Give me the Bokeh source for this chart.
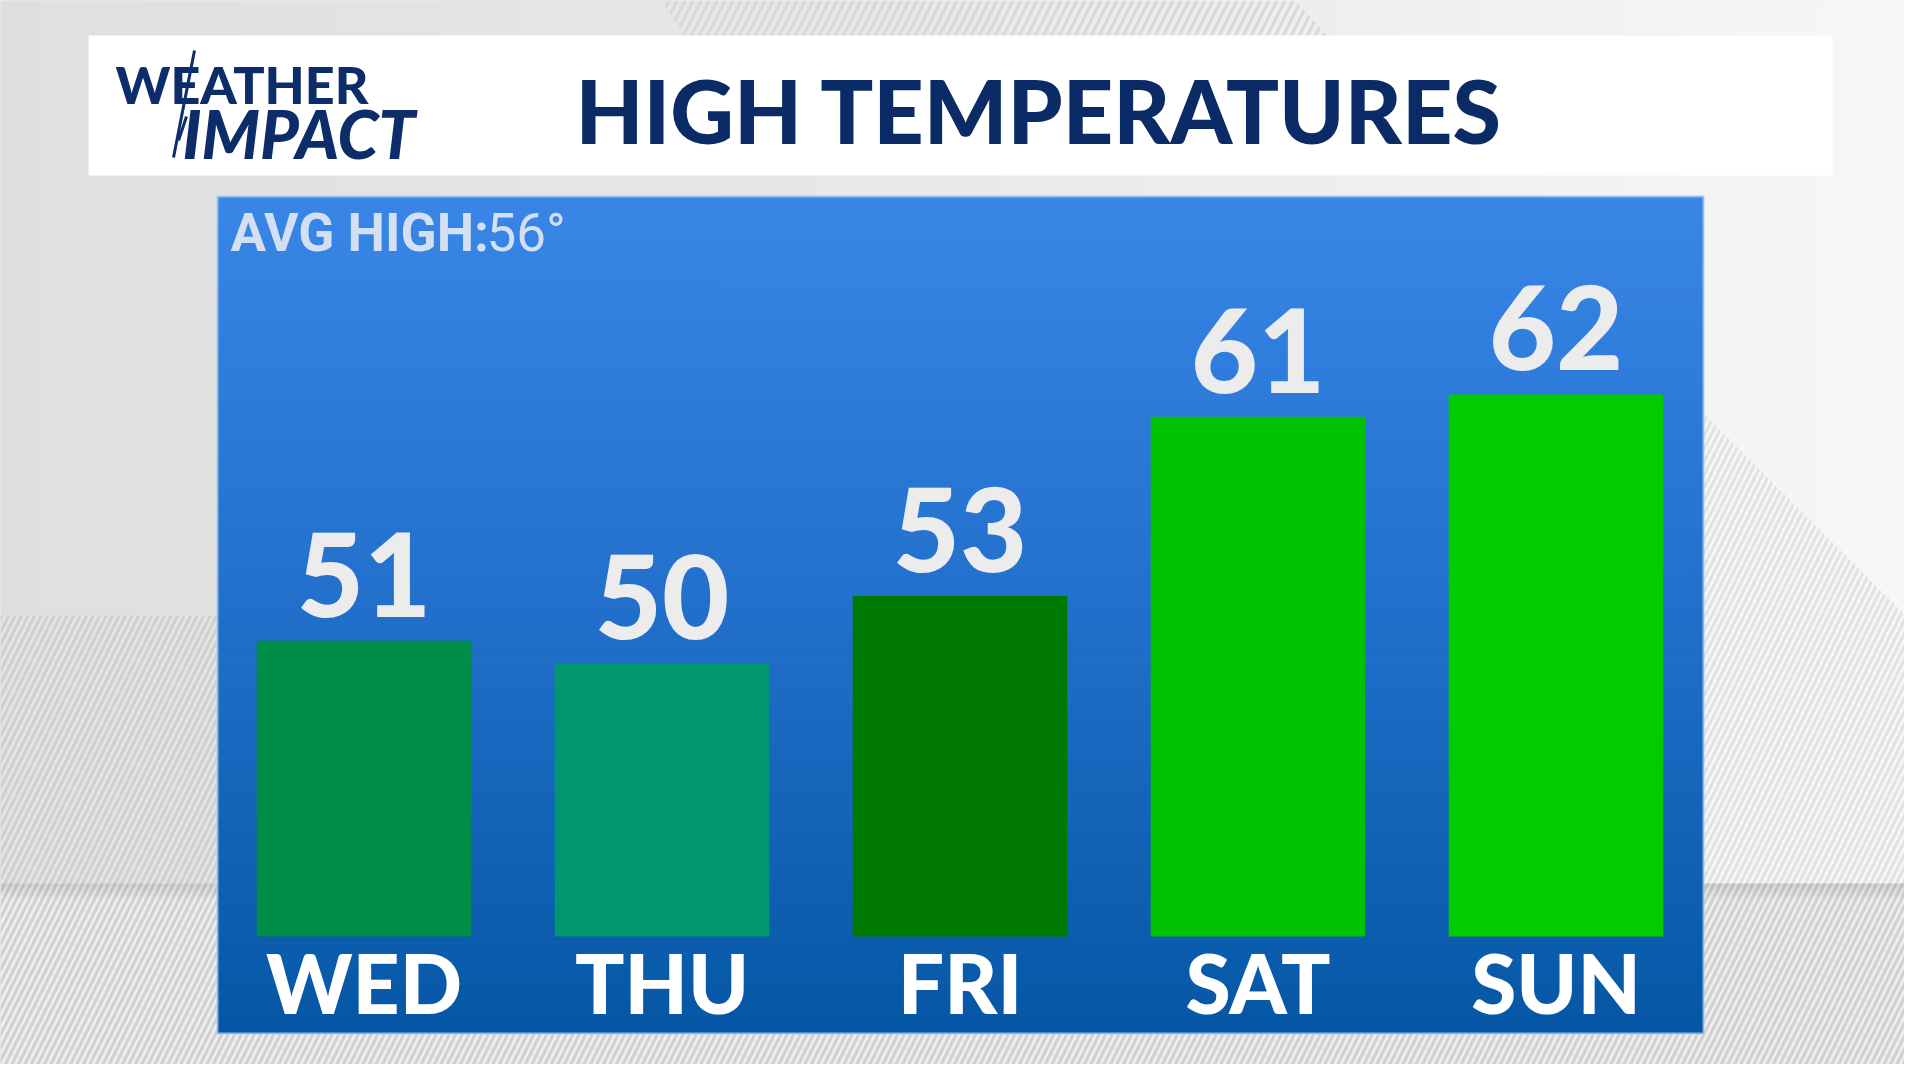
import numpy as np
from bokeh.plotting import figure
from bokeh.models import Range1d, ColumnDataSource
from bokeh.core.properties import value
from bokeh.embed import file_html
from bokeh.resources import INLINE

# ---- data ----
DAYS = ["WED", "THU", "FRI", "SAT", "SUN"]
HIGHS = [51, 50, 53, 61, 62]
BAR_COLORS = ["#008d47", "#00966f", "#007a00", "#00c200", "#00cc00"]
AVG_HIGH = 56
TITLE = "HIGH TEMPERATURES"
LOGO_TOP = "WEATHER"
LOGO_BOTTOM = "IMPACT"

# ---- layout constants (page pixels, 1:1 with the 1920x1080 window) ----
W, H = 1904, 1064
BASE = 37.8           # temperature at the bar baseline
PX_PER_DEG = 22.4
BASE_PX = 936
SLOT_PX = 298.0
FIRST_PX = 363.5
HEAVY = "'Lato Black', Lato"
SHIFT = 0.36          # baseline compensation (fraction of font size)


def hex2rgb(h):
    h = h.lstrip("#")
    return np.array([int(h[i:i + 2], 16) for i in (0, 2, 4)], dtype=float)


def grad(stops, t):
    pos = np.array([s[0] for s in stops])
    cols = np.array([hex2rgb(s[1]) for s in stops])
    out = []
    for tt in t:
        c = [np.interp(tt, pos, cols[:, k]) for k in range(3)]
        out.append("#%02x%02x%02x" % tuple(int(round(v)) for v in c))
    return out


def label(x, y, txt, size, font, style, color, align="left", **kw):
    p.text(x=x, y=y, text=txt, text_align=align, text_baseline="alphabetic",
           text_font=value(font), text_font_style=style, text_font_size=value(f"{size}px"),
           text_color=color, y_offset=-SHIFT * size, **kw)


p = figure(width=W, height=H, x_range=Range1d(0, W), y_range=Range1d(H, 0),
           output_backend="svg", toolbar_location=None, min_border=0,
           x_axis_type=None, y_axis_type=None)
p.grid.visible = False
p.outline_line_color = None
p.background_fill_color = "#e6e6e6"
p.border_fill_color = "#e6e6e6"
p.extra_x_ranges = {"days": Range1d(-FIRST_PX / SLOT_PX, (W - FIRST_PX) / SLOT_PX)}
p.extra_y_ranges = {"temp": Range1d(BASE - (H - BASE_PX) / PX_PER_DEG,
                                    BASE + BASE_PX / PX_PER_DEG)}

# ---- background gradient (left to right) ----
xs = np.linspace(0, 1920, 97)
bg = grad([(0, "#dfdfdf"), (960, "#e9e9e9"), (1920, "#f7f7f7")], (xs[:-1] + xs[1:]) / 2)
p.quad(left=xs[:-1], right=xs[1:], top=0, bottom=1080, fill_color=bg, line_color=bg, line_width=1)

# striped regions
p.patch(x=[661, 1295, 1327, 684], y=[0, 0, 36, 36], fill_alpha=0, line_color=None,
        hatch_pattern="/", hatch_color="#d8d8d8", hatch_scale=16, hatch_weight=3)
p.quad(left=0, right=240, top=615, bottom=883, fill_color="#e4e4e4", line_color=None,
       hatch_pattern="/", hatch_color="#d0d0d0", hatch_scale=13, hatch_weight=3)
p.patch(x=[1690, 1920, 1920, 1690], y=[400, 630, 883, 883], fill_color="#f6f6f6",
        line_color=None, hatch_pattern="/", hatch_color="#e2e2e2", hatch_scale=13, hatch_weight=3)
p.quad(left=0, right=1920, top=883, bottom=1080, fill_color="#eeeeee", line_color=None,
       hatch_pattern="/", hatch_color="#d0d0d0", hatch_scale=13, hatch_weight=3)
sh = np.arange(883, 901, 2)
p.quad(left=0, right=1920, top=sh, bottom=sh + 2, fill_color="black",
       fill_alpha=list(np.linspace(0.10, 0.0, len(sh))), line_color=None)

# ---- header box ----
p.quad(left=88, right=1832, top=35, bottom=175, fill_color="white", line_color=None)

# ---- blue panel gradient ----
ys = np.linspace(196, 1033, 121)
bl = grad([(196, "#3986e7"), (600, "#2270cc"), (1033, "#0557a5")], (ys[:-1] + ys[1:]) / 2)
p.quad(left=217, right=1703, top=ys[:-1], bottom=ys[1:], fill_color=bl, line_color=bl, line_width=1)
p.quad(left=217, right=1703, top=196, bottom=1033, fill_color=None,
       line_color="#a9cbf3", line_width=2, line_alpha=0.8)

# ---- bars ----
src = ColumnDataSource(dict(idx=list(range(len(DAYS))), day=DAYS, high=HIGHS, color=BAR_COLORS,
                            label=[str(v) for v in HIGHS]))
p.vbar(x="idx", top="high", bottom=BASE, width=0.72, fill_color="color",
       line_color=None, source=src, x_range_name="days", y_range_name="temp")

p.text(x="idx", y="high", text="label", source=src, x_range_name="days", y_range_name="temp",
       text_align="center", text_baseline="alphabetic", y_offset=-25 - SHIFT * 116,
       text_font=value(HEAVY), text_font_style="bold", text_font_size=value("116px"),
       text_color="#ececec")

p.text(x="idx", y=1011, text="day", source=src, x_range_name="days",
       text_align="center", text_baseline="alphabetic", y_offset=-SHIFT * 82,
       text_font=value(HEAVY), text_font_style="bold", text_font_size=value("82px"),
       text_color="#ffffff")

# ---- titles ----
label([1039], [141], [TITLE], 88, HEAVY, "bold", "#0b2b66", align="center")
label([115], [102], [LOGO_TOP], 52, HEAVY, "bold", "#0c2d69")
label([182], [157], [LOGO_BOTTOM], 66, HEAVY, "bold italic", "#0c2d69")
p.segment(x0=[194, 186], y0=[50, 116], x1=[173, 178], y1=[157, 140],
          line_color="#0c2d69", line_width=3)

label([230], [252], ["AVG HIGH:"], 53, "Roboto", "bold", "#d3dff2")
label([486], [252], [f"{AVG_HIGH}°"], 53, "Roboto", "normal", "#d3dff2")

open("out.html", "w").write(file_html(p, INLINE, title="High Temperatures"))
